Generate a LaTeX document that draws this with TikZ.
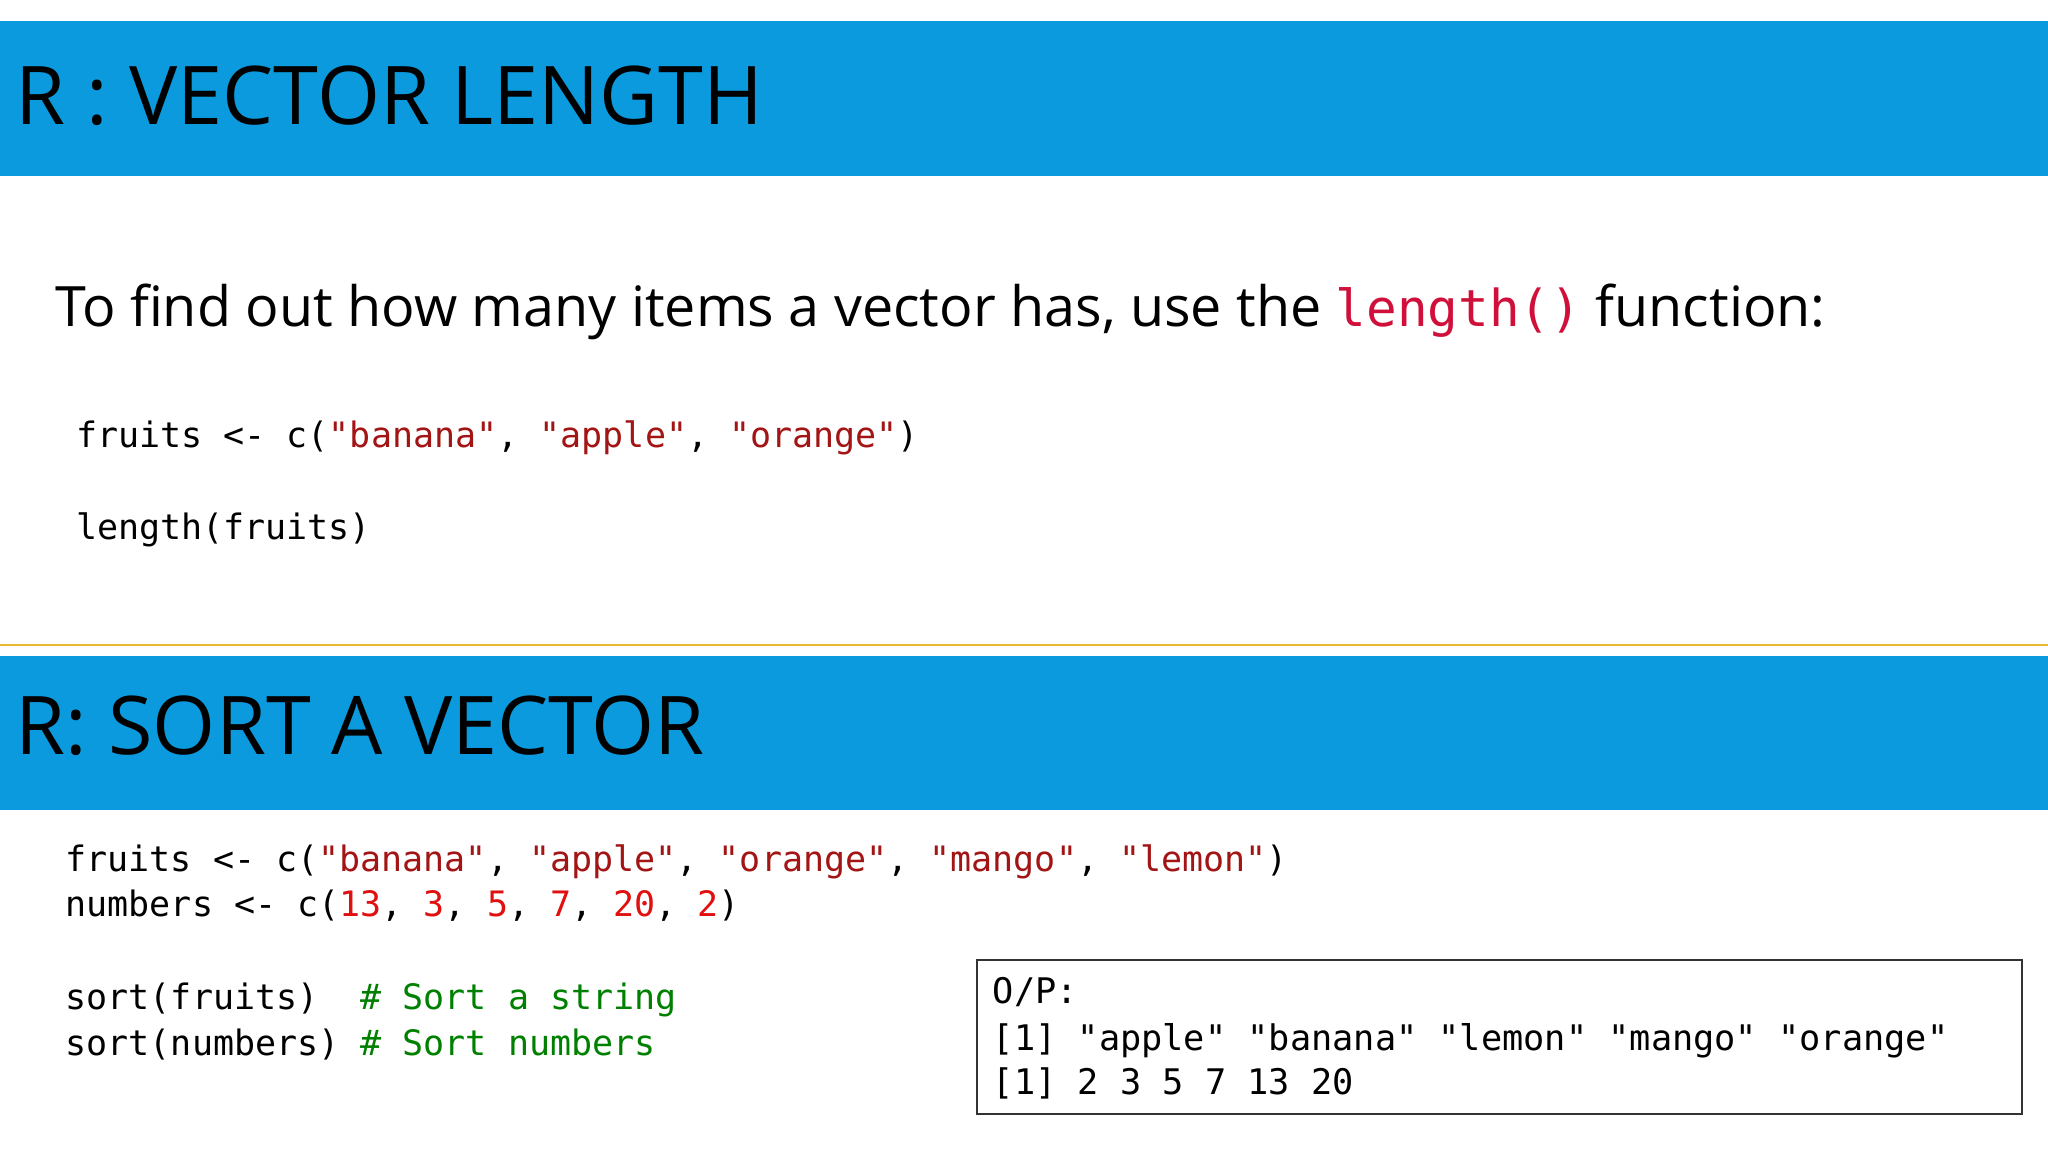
\documentclass[tikz,border=0pt]{standalone}
\usepackage{fontspec}
\setmainfont{Open Sans}
\setmonofont{DejaVu Sans Mono}
\definecolor{band}{HTML}{0B9ADE}
\definecolor{gold}{HTML}{E8B830}
\definecolor{str}{HTML}{A31515}
\definecolor{num}{HTML}{E01010}
\definecolor{cmt}{HTML}{008000}
\definecolor{fn}{HTML}{D0103A}
\tikzset{
  title/.style={anchor=base west,inner sep=0pt,font=\fontsize{62}{76}\selectfont},
  body/.style={anchor=base west,inner sep=0pt,font=\fontsize{42.6}{50}\selectfont},
  code/.style={anchor=base west,inner sep=0pt,font=\ttfamily\fontsize{26.8}{32}\selectfont},
  outc/.style={anchor=base west,inner sep=0pt,font=\ttfamily\fontsize{27}{32}\selectfont},
}
\newcommand{\s}[1]{\textcolor{str}{#1}}
\newcommand{\n}[1]{\textcolor{num}{#1}}
\begin{document}
\begin{tikzpicture}[x=1pt,y=-1pt]
\useasboundingbox (0,0) rectangle (1568,882);
\fill[white] (0,0) rectangle (1568,882);
\fill[band] (0,16) rectangle (1568,135);
\fill[band] (0,502) rectangle (1568,620);
\draw[gold,line width=1.5pt] (0,494) -- (1568,494);
\node[title] (t1) at (12,95) {R : VECTOR LENGTH};
\node[title] (t2) at (12,578) {R: SORT A VECTOR};
\node[body] (intro) at (42,250) {To find out how many items a vector has, use the \textcolor{fn}{\ttfamily\fontsize{39}{46}\selectfont length()} function:};
\node[code] (c1) at (58,343) {fruits <- c(\s{"banana"}, \s{"apple"}, \s{"orange"})};
\node[code] (c2) at (58,413) {length(fruits)};
\node[code] (d1) at (50,667) {fruits <- c(\s{"banana"}, \s{"apple"}, \s{"orange"}, \s{"mango"}, \s{"lemon"})};
\node[code] (d2) at (50,702) {numbers <- c(\n{13}, \n{3}, \n{5}, \n{7}, \n{20}, \n{2})};
\node[code] (d3) at (50,773) {sort(fruits)\ \ \textcolor{cmt}{\# Sort a string}};
\node[code] (d4) at (50,808) {sort(numbers) \textcolor{cmt}{\# Sort numbers}};
\draw[black!80,line width=1pt] (748,735) rectangle (1548,853);
\node[outc] (o1) at (760,768) {O/P:};
\node[outc] (o2) at (760,804) {[1] "apple" "banana" "lemon" "mango" "orange"};
\node[outc] (o3) at (760,838) {[1] 2 3 5 7 13 20};
\end{tikzpicture}
\end{document}
